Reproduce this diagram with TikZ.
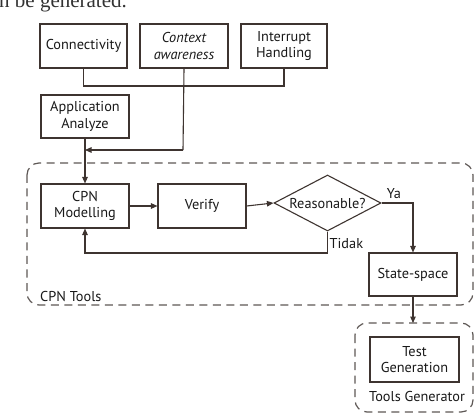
\documentclass[tikz,border=0pt]{standalone}
\usepackage{fontspec}
\setmainfont{PT Sans}
\newfontfamily\capfont{Liberation Serif}
\usetikzlibrary{shapes.geometric,arrows.meta}
\definecolor{edge}{HTML}{3E3430}
\definecolor{dashc}{HTML}{5E5856}
\begin{document}
\begin{tikzpicture}[x=1pt,y=-1pt,
  box/.style={draw=edge,line width=1.1pt,minimum width=88pt,minimum height=44pt,inner sep=2pt,align=center,font=\fontsize{14.3}{16.5}\selectfont,text=black!90},
  conn/.style={draw=edge,line width=1.1pt},
  arr/.style={conn,-{Triangle[length=6.5pt,width=5.5pt]}},
  region/.style={draw=dashc,line width=1.2pt,dash pattern=on 8pt off 5.5pt,rounded corners=12pt},
  lbl/.style={font=\fontsize{14.3}{16.5}\selectfont,text=black!90,inner sep=0pt}]
\useasboundingbox[fill=white] (0,0) rectangle (474,414);
\begin{scope}
\clip (0,0) rectangle (474,414);
\node[anchor=base west,inner sep=0pt,font=\capfont\fontsize{21}{23}\selectfont,text=black!80] (cap) at (-1,8) {n be generated.};
\end{scope}
% regions
\draw[region] (27,163) rectangle (473,305);
\draw[region] (355,323) rectangle (473,412);
% nodes
\node[box,minimum width=87pt] (conn) at (83.5,46) {Connectivity};
\node[box] (ctx) at (184,46) {\itshape Context\\\itshape awareness};
\node[box,minimum width=86pt] (intr) at (284,46) {Interrupt\\Handling};
\node[box,minimum height=43pt] (app) at (85,116.5) {Application\\Analyze};
\node[box] (cpn) at (85,206) {CPN\\Modelling};
\node[box] (ver) at (202,206) {Verify};
\node[draw=edge,line width=1.1pt,shape=diamond,aspect=1.9,minimum width=107pt,minimum height=56pt,inner sep=0pt,font=\fontsize{14.3}{16.5}\selectfont,text=black!90] (dia) at (327.5,203) {Reasonable?};
\node[box,minimum height=43pt] (ss) at (413,274.5) {State-space};
\node[box,minimum width=89pt,minimum height=45pt] (tg) at (414.5,359.5) {Test\\Generation};
% labels
\node[lbl,anchor=west] (lcpn) at (40,296) {CPN Tools};
\node[lbl] (lya) at (394,194) {Ya};
\node[lbl,anchor=west] (ltd) at (329.5,244) {Tidak};
\node[lbl] (ltg) at (417,396) {Tools Generator};
% connectors
\coordinate (j) at (183,86);
\coordinate (k) at (85,150);
\draw[conn] (conn.south) |- (j) -| (intr.south);
\draw[conn] (ctx.south) -- (183,150);
\draw[arr] (183,150) -- (k);
\draw[arr] (app.south) -- (cpn.north);
\draw[arr] (cpn.east) -- (ver.west);
\draw[arr] (ver.east) -- (dia.west);
\draw[arr] (dia.east) -| (ss.north);
\draw[arr] (dia.south) |- (85,253) -- (cpn.south);
\draw[arr] (ss.south) -- (413,323);
\end{tikzpicture}
\end{document}
